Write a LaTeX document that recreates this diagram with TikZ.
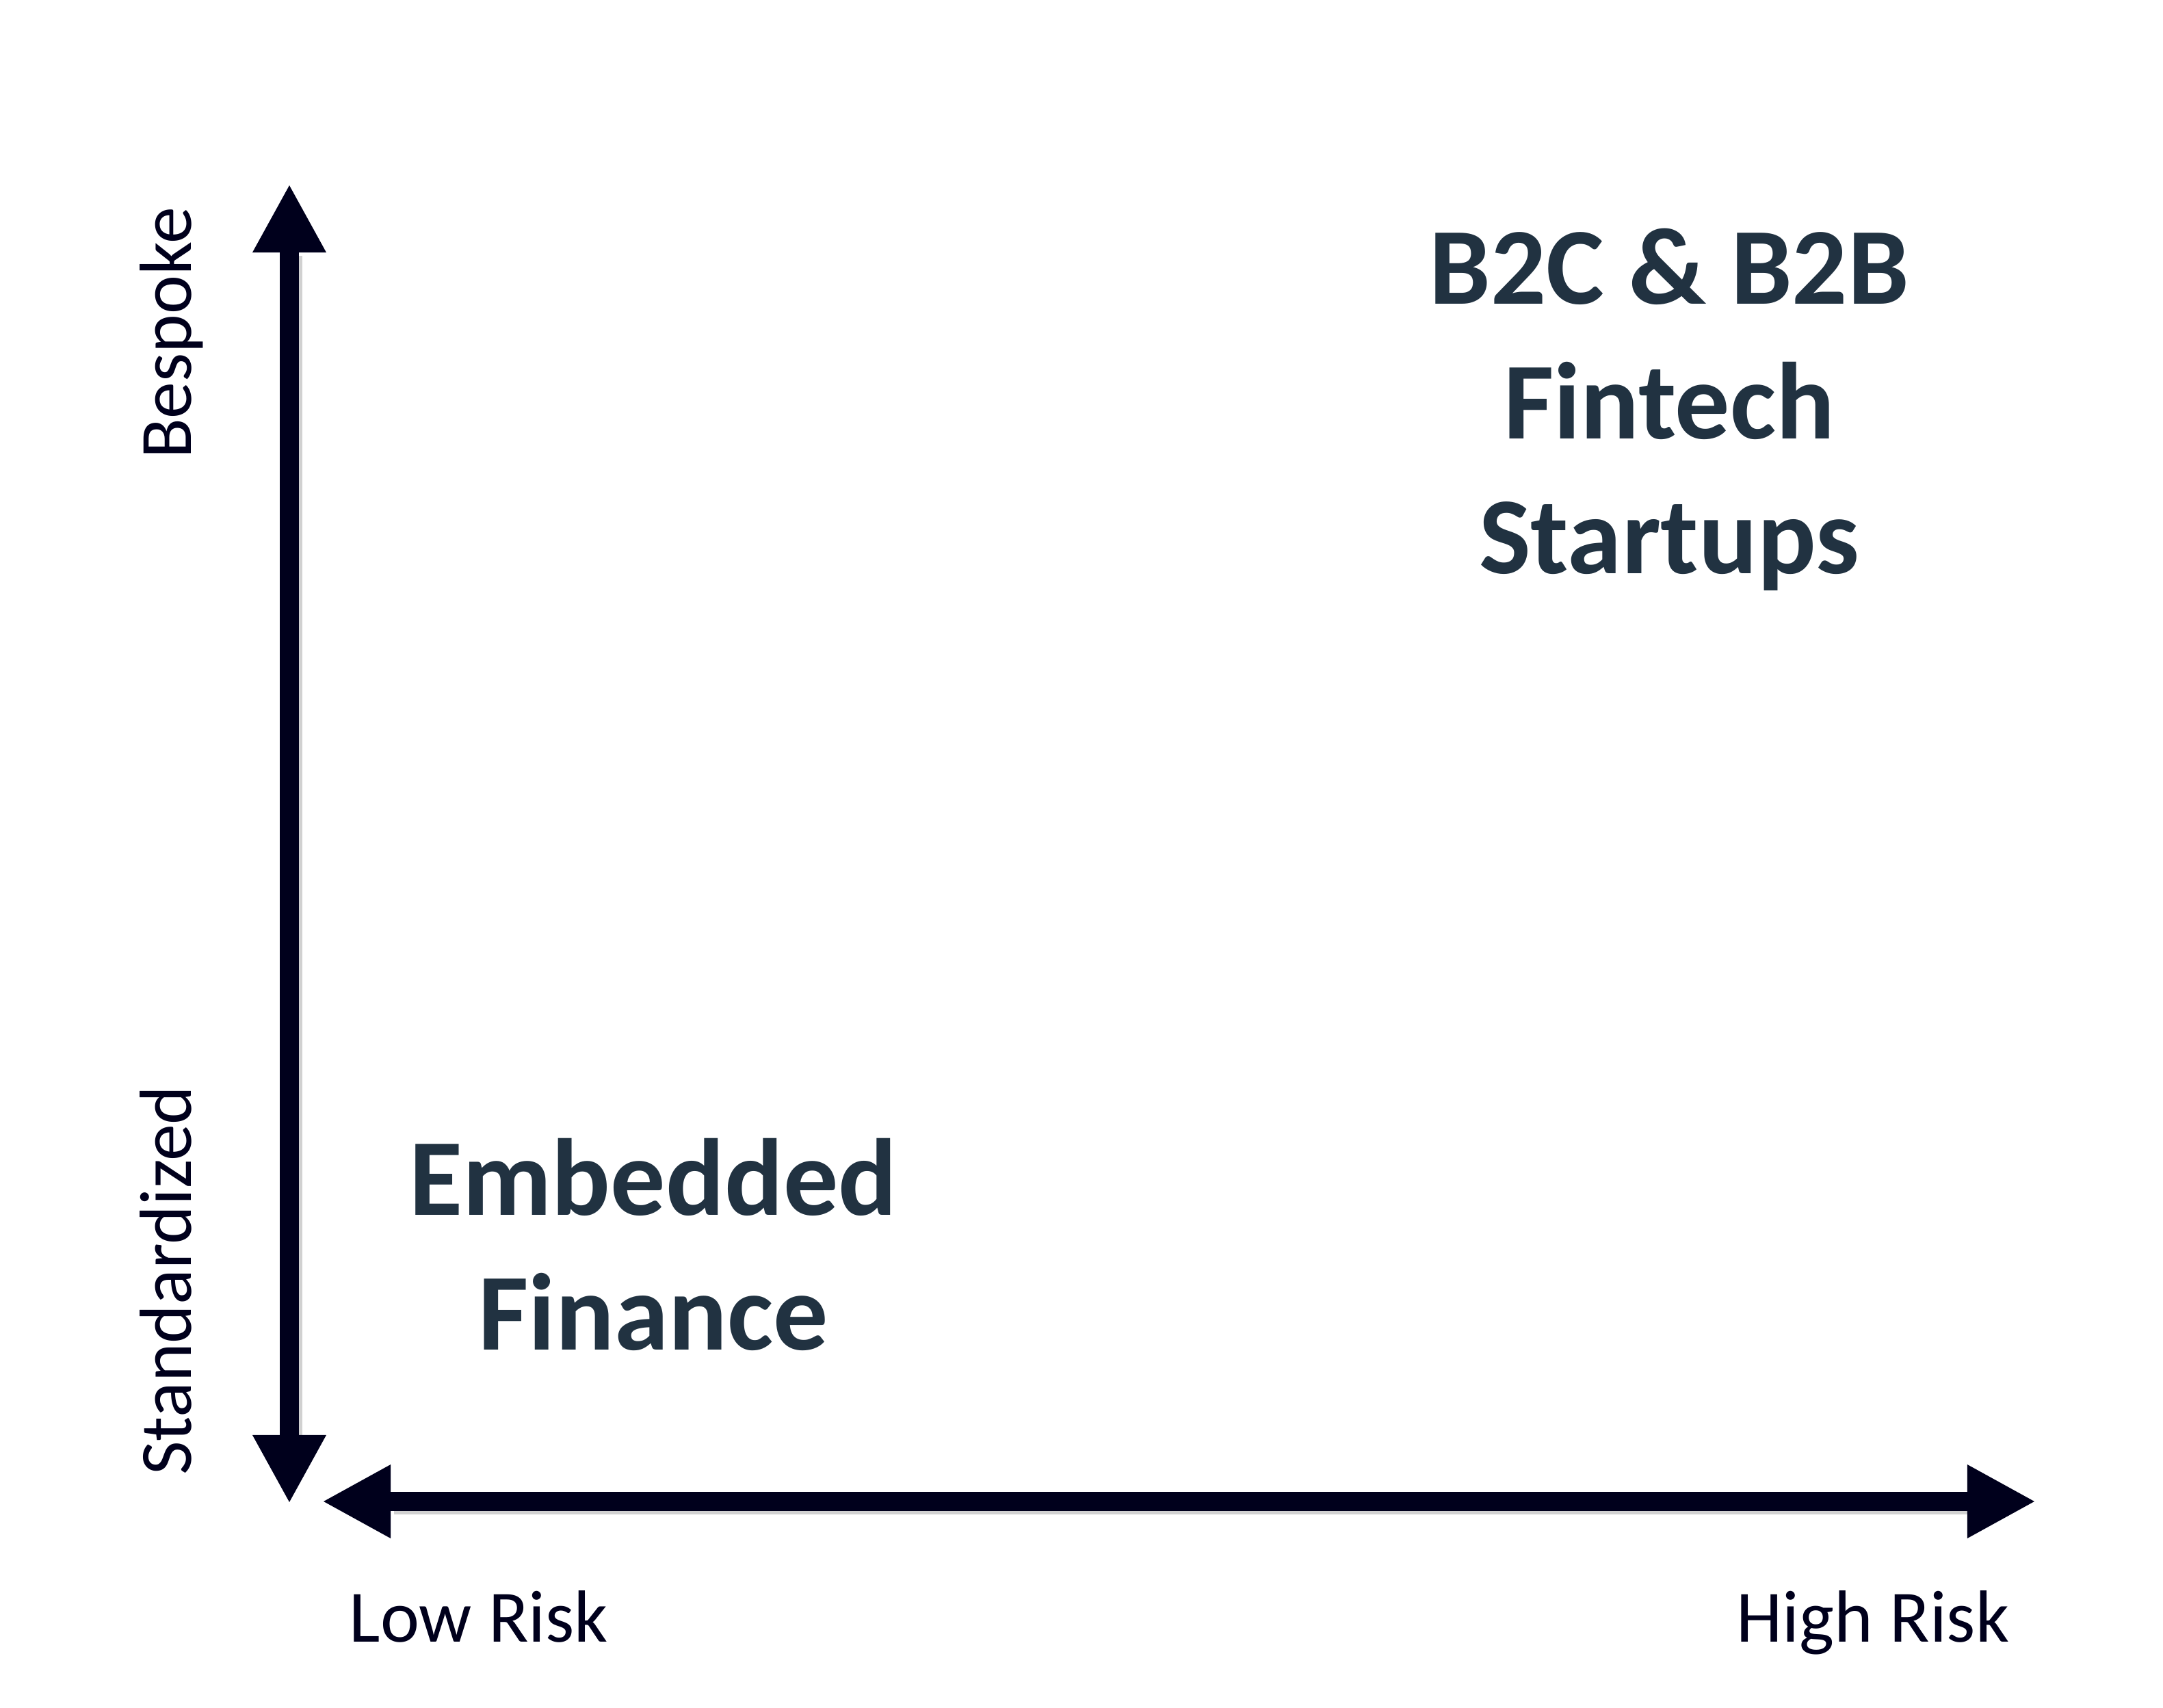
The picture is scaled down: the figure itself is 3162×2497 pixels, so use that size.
\documentclass[tikz,border=0pt]{standalone}
\usepackage{fontspec}
\setmainfont{Carlito}
\usepackage{xcolor}
\usetikzlibrary{positioning, arrows.meta}
\definecolor{axisnavy}{RGB}{0,0,28}
\definecolor{slate}{RGB}{33,50,65}

\begin{document}
\begin{tikzpicture}[x=0.01cm, y=-0.01cm,
  axis/.style={line width=0.28cm, draw=axisnavy,
    arrows={Triangle[length=1cm,width=1cm]-Triangle[length=1cm,width=1cm]}},
  axisshadow/.style={line width=0.28cm, draw=black!18, shorten <=1cm, shorten >=1cm,
    transform canvas={shift={(0.05cm,-0.05cm)}}},
  axislabel/.style={inner sep=0pt, text=axisnavy, font=\fontsize{30.7pt}{37pt}\selectfont},
  segment/.style={inner sep=0pt, align=center, text=slate,
    font=\fontsize{45.5pt}{56pt}\selectfont\bfseries}]
  \useasboundingbox (0,0) rectangle (3162,2497);

  % axis ends
  \coordinate (top) at (423,269);
  \coordinate (bottom) at (423,2198);
  \coordinate (left) at (471,2195);
  \coordinate (right) at (2976,2195);

  % vertical axis
  \draw[axisshadow] (top) -- (bottom);
  \draw[axis] (top) -- (bottom);
  % horizontal axis
  \draw[axisshadow] (left) -- (right);
  \draw[axis] (left) -- (right);

  \node[axislabel, rotate=90, anchor=base] (bespoke) at (279,487) {Bespoke};
  \node[axislabel, rotate=90, anchor=base] (standardized) at (279,1872) {Standardized};
  \node[axislabel, anchor=base] (lowrisk) at (700,2400) {Low Risk};
  \node[axislabel, anchor=base] (highrisk) at (2738,2400) {High Risk};

  \node[segment, anchor=north] (startups) at (2440,333) {B2C \& B2B\\Fintech\\Startups};
  \node[segment, anchor=north] (embedded) at (955,1664) {Embedded\\Finance};
\end{tikzpicture}
\end{document}
